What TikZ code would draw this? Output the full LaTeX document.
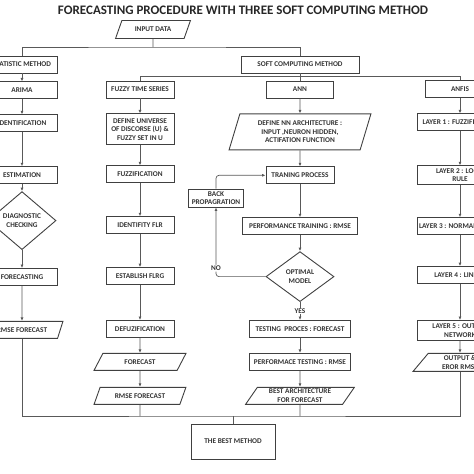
\documentclass[tikz,border=0pt]{standalone}
\usepackage{fontspec}
\setmainfont{Carlito}
\usetikzlibrary{shapes.geometric, arrows.meta, positioning}

\begin{document}
\begin{tikzpicture}[
  x=1pt, y=-1pt,
  kut/.style={draw=black!75, line width=0.9pt, font=\bfseries\fontsize{7.3}{8.5}\selectfont,
              text=black!80, align=center, inner sep=1pt, minimum height=17pt},
  par/.style={kut, trapezium, trapezium left angle=60, trapezium right angle=120,
              trapezium stretches=true},
  odl/.style={kut, diamond, inner sep=0pt},
  lin/.style={draw=black!65, line width=0.7pt},
  pr/.style={lin, -{Latex[length=3.5pt, width=3pt]}},
  ozn/.style={font=\bfseries\fontsize{7.3}{8.5}\selectfont, text=black!80, inner sep=1pt, fill=white}
]
  \useasboundingbox (0,0) rectangle (474,474);
  \clip (0,0) rectangle (474,474);

  \node[font=\bfseries\fontsize{13}{14}\selectfont, text=black!85] (nas) at (243,10)
    {FORECASTING PROCEDURE WITH THREE SOFT COMPUTING METHOD};
  \node[par, minimum width=75pt, minimum height=18pt] (ul) at (153,29.5) {INPUT DATA};
  \node[kut, minimum width=70pt] (sta) at (22,64.5) {STATISTIC METHOD};
  \node[kut, minimum width=118pt] (sof) at (300,64.5) {SOFT COMPUTING METHOD};

  % statistic
  \node[kut, minimum width=70pt, below=8pt of sta] (ari) {ARIMA};
  \node[kut, minimum width=70pt, below=15pt of ari] (ide) {IDENTIFICATION};
  \node[kut, minimum width=70pt, below=34pt of ide] (est) {ESTIMATION};
  \node[odl, minimum width=68pt, minimum height=58pt, below=7pt of est] (dia) {DIAGNOSTIC\\CHECKING};
  \node[kut, minimum width=70pt, below=18pt of dia] (fcs) {FORECASTING};
  \node[par, minimum width=82pt, below=35pt of fcs] (srm) {RMSE FORECAST};

  % fuzzy time series
  \node[kut, minimum width=68pt] (fts) at (140,89.5) {FUZZY TIME SERIES};
  \node[kut, minimum width=68pt, minimum height=31pt, below=15pt of fts] (dfu)
    {DEFINE UNIVERSE\\OF DISCORSE (U) \&\\FUZZY SET IN U};
  \node[kut, minimum width=68pt, below=20pt of dfu] (fzf) {FUZZIFICATION};
  \node[kut, minimum width=68pt, below=33pt of fzf] (flr) {IDENTIFITY FLR};
  \node[kut, minimum width=68pt, below=33pt of flr] (flg) {ESTABLISH FLRG};
  \node[kut, minimum width=68pt, below=35pt of flg] (dfz) {DEFUZIFICATION};
  \node[par, minimum width=92pt, below=15pt of dfz] (fct) {FORECAST};
  \node[par, minimum width=92pt, below=16pt of fct] (frm) {RMSE FORECAST};

  % ann
  \node[kut, minimum width=67pt] (ann) at (300,89.5) {ANN};
  \node[par, trapezium left angle=72, trapezium right angle=108, minimum width=142pt,
        minimum height=36pt, below=15pt of ann] (dnn)
    {DEFINE NN ARCHITECTURE :\\INPUT ,NEURON HIDDEN,\\ACTIFATION FUNCTION};
  \node[kut, minimum width=68pt, below=16pt of dnn] (trn) {TRANING PROCESS};
  \node[kut, minimum width=55pt, minimum height=18pt] (bkp) at (216,198) {BACK\\PROPAGRATION};
  \node[kut, minimum width=115pt, below=33pt of trn] (ptr) {PERFORMANCE TRAINING : RMSE};
  \node[odl, minimum width=68pt, minimum height=50pt, below=16pt of ptr] (opt) {OPTIMAL\\MODEL};
  \node[kut, minimum width=101pt, below=18pt of opt] (tst) {TESTING\ \ PROCES : FORECAST};
  \node[kut, minimum width=101pt, below=15pt of tst] (pts) {PERFORMACE TESTING : RMSE};
  \node[par, minimum width=109pt, below=16pt of pts] (bar) {BEST ARCHITECTURE\\FOR FORECAST};

  % anfis
  \node[kut, minimum width=70pt] (anf) at (460,89) {ANFIS};
  \node[kut, minimum width=86pt, below=15.5pt of anf] (la1) {LAYER 1 : FUZZIFICATION};
  \node[kut, minimum width=86pt, minimum height=19pt, below=34pt of la1] (la2) {LAYER 2 : LOGIC\\RULE};
  \node[kut, minimum width=86pt, below=32pt of la2] (la3) {LAYER 3 : NORMALIZATION};
  \node[kut, minimum width=86pt, below=31pt of la3] (la4) {LAYER 4 : LINEAR};
  \node[kut, minimum width=86pt, minimum height=20pt, below=36pt of la4] (la5) {LAYER 5 : OUTPUT\\NETWORK};
  \node[par, minimum width=94pt, minimum height=18pt, below=12pt of la5] (out) {OUTPUT \&\\EROR RMSE};

  \node[kut, minimum width=84pt, minimum height=35pt] (bst) at (233,441.5) {THE BEST METHOD};

  % splits
  \coordinate (sp1) at (153,47);
  \coordinate (sp2) at (300,76.5);
  \coordinate (sab) at (233,416);
  \draw[lin] (ul) -- (sp1);
  \draw[lin] (sta.north) |- (sp1) -| (sof.north);
  \draw[lin] (sof) -- (sp2);
  \draw[lin] (fts.north) |- (sp2) -| (anf.north);
  \draw[lin] (sp2) -- (ann);

  \draw[pr] (sta) -- (ari);
  \draw[pr] (ari) -- (ide);
  \draw[pr] (ide) -- (est);
  \draw[pr] (est) -- (dia);
  \draw[pr] (dia) -- (fcs);
  \draw[pr] (fcs) -- (srm);

  \draw[pr] (fts) -- (dfu);
  \draw[pr] (dfu) -- (fzf);
  \draw[pr] (fzf) -- (flr);
  \draw[pr] (flr) -- (flg);
  \draw[pr] (flg) -- (dfz);
  \draw[pr] (dfz) -- (fct);
  \draw[pr] (fct) -- (frm);

  \draw[pr] (ann) -- (dnn);
  \draw[pr] (dnn) -- (trn);
  \draw[pr] (trn) -- (ptr);
  \draw[pr] (ptr) -- (opt);
  \draw[pr] (opt) -- node[ozn] {YES} (tst);
  \draw[pr] (tst) -- (pts);
  \draw[pr] (pts) -- (bar);
  \draw[pr, rounded corners=3pt] (opt.west) -| node[ozn, pos=0.56] {NO} (bkp.south);
  \draw[pr, rounded corners=3pt] (bkp.north) |- (trn.west);

  \draw[pr] (anf) -- (la1);
  \draw[pr] (la1) -- (la2);
  \draw[pr] (la2) -- (la3);
  \draw[pr] (la3) -- (la4);
  \draw[pr] (la4) -- (la5);
  \draw[pr] (la5) -- (out);

  % bottom
  \draw[lin] (srm.south) |- (sab) -| (out.south);
  \draw[lin] (frm) -- (frm |- sab);
  \draw[lin] (bar) -- (bar |- sab);
  \draw[lin] (sab) -- (bst);
\end{tikzpicture}
\end{document}
